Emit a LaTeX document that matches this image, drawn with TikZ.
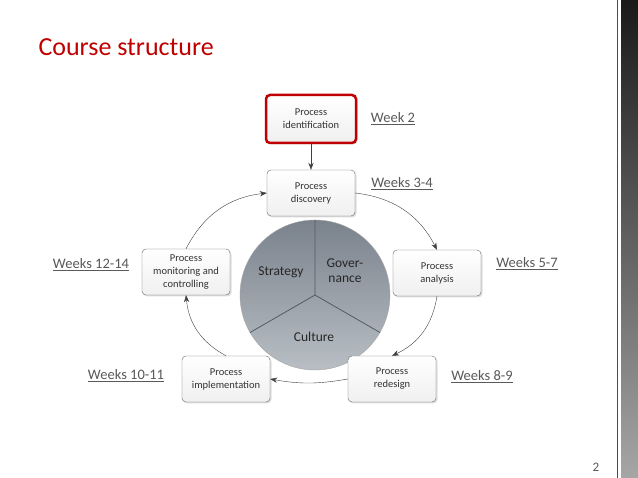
\documentclass[tikz,border=0pt]{standalone}
\usepackage{fontspec}
\setmainfont{Carlito}
\usetikzlibrary{arrows.meta,shadows}
\definecolor{tred}{HTML}{C00000}
\definecolor{tgray}{HTML}{595959}
\definecolor{ctop}{HTML}{7A828C}
\definecolor{cbot}{HTML}{B8BEC4}
\tikzset{
 proc/.style={draw=gray!80!black, rounded corners=4pt, minimum width=88pt, minimum height=46pt, top color=white, bottom color=gray!12, align=center, font=\fontsize{10.5}{13}\selectfont, text=black!80, drop shadow={opacity=0.25, shadow xshift=1.5pt, shadow yshift=-1.5pt}},
 wk/.style={font=\fontsize{14.5}{16}\selectfont, text=tgray},
 cyc/.style={draw=black!75, -{Stealth[length=7pt]}, thin},
 seg/.style={font=\fontsize{13.5}{15}\selectfont, text=black!85, align=center}
}
\begin{document}
\begin{tikzpicture}[x=1pt,y=-1pt]
\useasboundingbox (0,0) rectangle (638,478);
\fill[white] (0,0) rectangle (638,478);
\shade[top color=black!90, bottom color=black!35] (621,0) rectangle (638,478);
\draw[black!70, line width=0.8pt] (617,0) -- (617,478);
\node[anchor=west, font=\fontsize{26}{28}\selectfont, text=tred] (title) at (35,47) {Course structure};
\node[font=\fontsize{13}{15}\selectfont, text=tgray] (pg) at (596,467) {2};
\shade[top color=ctop, bottom color=cbot, draw=gray!70] (315,295) circle[radius=75];
\coordinate (c) at (315,295);
\draw[ctop!70!black, line width=0.8pt] (c) -- ++(0,-75) (c) -- ++(210:75 and -75) (c) -- ++(330:75 and -75);
\node[seg] (strat) at (281,272) {Strategy};
\node[seg] (gov) at (345,271) {Gover-\\nance};
\node[seg] (cult) at (314,337) {Culture};
\node[proc, draw=tred, line width=2.5pt, minimum width=90pt, minimum height=48pt] (ident) at (311,119) {Process\\identification};
\node[proc] (disc) at (311,193) {Process\\discovery};
\node[proc] (anal) at (437,273) {Process\\analysis};
\node[proc] (redes) at (392,379) {Process\\redesign};
\node[proc] (impl) at (226,379) {Process\\implementation};
\node[proc] (mon) at (186,272) {Process\\monitoring and\\controlling};
\draw[cyc] (ident) -- (disc);
\draw[cyc] (disc.east) to[bend left=28] (anal.north);
\draw[cyc] (anal.south) to[bend left=28] (redes.north);
\draw[cyc] (redes.west) to[bend left=10] (impl.east);
\draw[cyc] (impl.north) to[bend left=28] (mon.south);
\draw[cyc] (mon.north) to[bend left=28] (disc.west);
\node[wk] (w2) at (393,119) {\underline{Week 2}};
\node[wk] (w34) at (402,184) {\underline{Weeks 3-4}};
\node[wk] (w57) at (527,264) {\underline{Weeks 5-7}};
\node[wk] (w89) at (482,377) {\underline{Weeks 8-9}};
\node[wk] (w1011) at (126,376) {\underline{Weeks 10-11}};
\node[wk] (w1214) at (91,265) {\underline{Weeks 12-14}};
\end{tikzpicture}
\end{document}
